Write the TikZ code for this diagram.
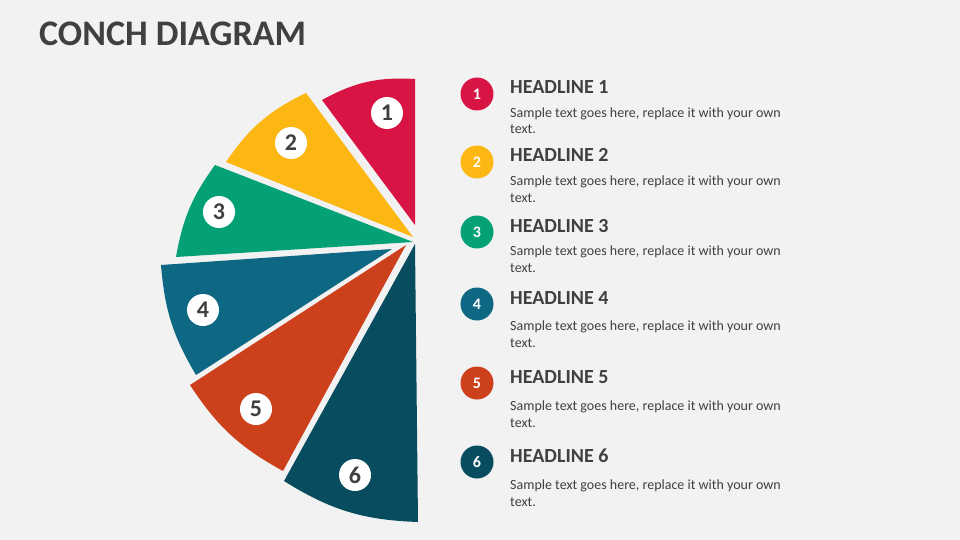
\documentclass[tikz,border=0pt]{standalone}
\usepackage{fontspec}
\setmainfont{Carlito}
\usetikzlibrary{positioning}

\definecolor{bgcol}{HTML}{F2F2F2}
\definecolor{txtcol}{HTML}{404040}
\definecolor{conchA}{HTML}{D81444}
\definecolor{conchB}{HTML}{FDB713}
\definecolor{conchC}{HTML}{05A176}
\definecolor{conchD}{HTML}{0E6883}
\definecolor{conchE}{HTML}{CC411B}
\definecolor{conchF}{HTML}{084C5F}

\begin{document}
\begin{tikzpicture}[x=1pt,y=-1pt,
  numdot/.style={circle,fill=white,inner sep=0pt,minimum size=32pt,
    font=\fontsize{24}{24}\selectfont\bfseries,text=txtcol},
  keydot/.style={circle,inner sep=0pt,minimum size=33pt,
    font=\fontsize{16}{16}\selectfont\bfseries,text=white},
  headline/.style={anchor=base west,inner sep=0pt,
    font=\fontsize{20}{20}\selectfont\bfseries,text=txtcol},
  bodytext/.style={anchor=base west,align=left,inner sep=0pt,
    font=\fontsize{14}{16.5}\selectfont,text=txtcol}]

  % background and page size
  \fill[bgcol] (0,0) rectangle (960,540);
  \useasboundingbox (0,0) rectangle (960,540);

  % title
  \node[anchor=base west,inner sep=0pt,font=\fontsize{36}{36}\selectfont\bfseries,
    text=txtcol] (title) at (39,46) {CONCH DIAGRAM};

  % conch pieces
  \fill[conchA] (415,225) -- (415,79) to[bend right=16] (322,100) -- cycle;
  \fill[conchB] (413,237) -- (306,93) to[bend right=15] (226,162) -- cycle;
  \fill[conchC] (413,242) -- (215,165) to[bend right=13] (176,257) -- cycle;
  \fill[conchD] (392,249) -- (161,265) to[bend right=13] (196,375) -- cycle;
  \fill[conchE] (406,245) -- (190,385) to[bend right=14] (283,471) -- cycle;
  \fill[conchF] (415,244) -- (284,481) to[bend right=15] (418,522) -- cycle;

  % numbers on the pieces
  \foreach \n/\x/\y in {1/387/113,2/291/143,3/219/212,4/203/310,5/256/409,6/355/475} {
    \node[numdot] (num\n) at (\x,\y) {\n};
  }

  % legend (body node sits on its last line)
  \foreach \n/\y/\dy/\c in {1/94/40/conchA,2/162/40/conchB,3/232/40/conchC,
                            4/304/43/conchD,5/383/44/conchE,6/462/44/conchF} {
    \node[keydot,fill=\c] (key\n) at (477,\y) {\n};
    \node[headline] (head\n) at (510,\y) {HEADLINE \n};
    \node[bodytext] (body\n) at (510,\y+\dy)
      {Sample text goes here, replace it with your own\\text.};
  }

\end{tikzpicture}
\end{document}
